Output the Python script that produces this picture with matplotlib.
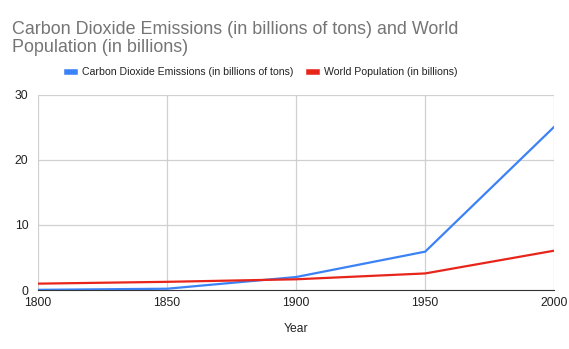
import matplotlib
matplotlib.use('Agg')
import matplotlib.pyplot as plt

years = [1800, 1850, 1900, 1950, 2000]
co2 = [0.03, 0.2, 2.0, 5.9, 25.1]
population = [0.98, 1.26, 1.65, 2.55, 6.05]
yticks = [0, 10, 20, 30]

plt.rcParams['font.family'] = ['Liberation Sans', 'DejaVu Sans']

fig = plt.figure(figsize=(5.69, 3.49), dpi=100)
ax = fig.add_axes([0.067, 0.169, 0.907, 0.559])

ax.plot(years, co2, color='#3b82f6', lw=1.6, label='Carbon Dioxide Emissions (in billions of tons)')
ax.plot(years, population, color='#e8251b', lw=1.6, label='World Population (in billions)')

ax.set_xlim(1800, 2000)
ax.set_ylim(0, 30)
ax.set_xticks(years)
ax.set_yticks(yticks)
ax.grid(True, color='#d0d0d0', lw=0.9)
ax.set_axisbelow(True)
for s in ['top', 'right', 'left']:
	ax.spines[s].set_visible(False)
ax.spines['bottom'].set_color('#333333')
ax.tick_params(length=0, labelsize=8.7, colors='#222222')
ax.tick_params(axis='x', pad=5)
ax.tick_params(axis='y', pad=7)
ax.set_xlabel('Year', fontsize=8.7, color='#222222', labelpad=10)

fig.text(0.021, 0.94, 'Carbon Dioxide Emissions (in billions of tons) and World\nPopulation (in billions)',
	fontsize=12.9, color='#757575', va='top', ha='left', linespacing=1.05)

leg = fig.legend(loc='center', bbox_to_anchor=(0.461, 0.793), ncol=2, frameon=False,
	fontsize=7.6, handlelength=0.75, handletextpad=0.7, columnspacing=1.5)
for h in leg.get_lines():
	h.set_linewidth(4)
for t in leg.get_texts():
	t.set_color('#222222')

fig.savefig('out.png', dpi=100)
